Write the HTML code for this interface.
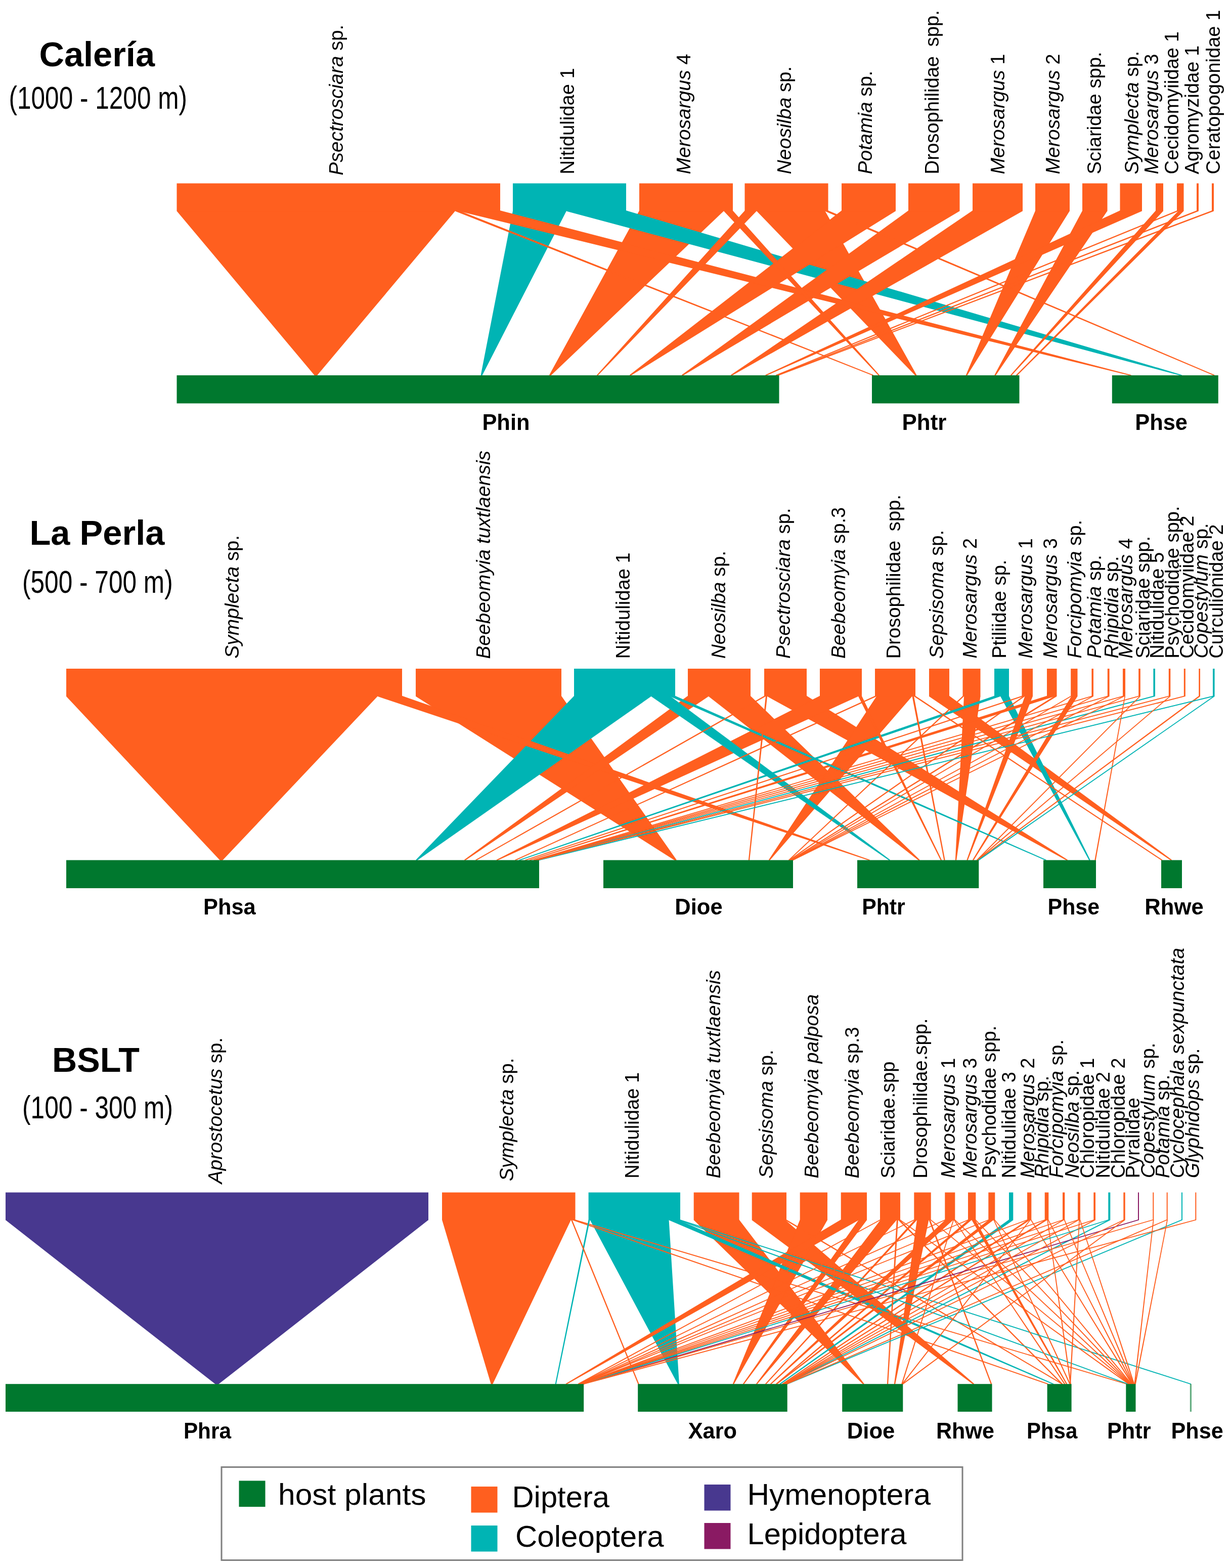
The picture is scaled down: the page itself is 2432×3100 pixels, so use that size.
<!DOCTYPE html>
<html lang="en"><head><meta charset="utf-8"><title>Plant–insect networks</title>
<style>
html,body{margin:0;padding:0;background:#fff}
body{width:2432px;height:3100px;overflow:hidden}
svg{display:block}
text{font-family:"Liberation Sans",Arial,Helvetica,sans-serif;fill:#000}
.sp{font-size:38.2px}
.lo{font-size:43.5px;font-weight:bold}
.ti{font-size:68px;font-weight:bold}
.su{font-size:63px}
.lg{font-size:60px}
</style></head><body>
<svg width="2432" height="3100" viewBox="0 0 2432 3100">
<rect width="2432" height="3100" fill="#fff"/>
<g shape-rendering="geometricPrecision">
<polygon fill="#FF5F1F" stroke="#FF5F1F" stroke-width="1.8" stroke-linejoin="bevel" points="350.4,416.8 899.1,416.8 626.1,742 622.9,742"/>
<polygon fill="#FF5F1F" stroke="#FF5F1F" stroke-width="1.8" stroke-linejoin="bevel" points="1264.9,416.8 1430.1,416.8 1088.2,742 1086.8,742"/>
<polygon fill="#FF5F1F" stroke="#FF5F1F" stroke-width="1.8" stroke-linejoin="bevel" points="1496.9,416.8 1630.1,416.8 1811.6,742 1810.4,742"/>
<polygon fill="#00B4B4" stroke="#00B4B4" stroke-width="1.8" stroke-linejoin="bevel" points="1120.9,416.8 1237.1,416.8 2336.5,742 2335.5,742"/>
<polygon fill="#FF5F1F" stroke="#FF5F1F" stroke-width="1.8" stroke-linejoin="bevel" points="1664.9,416.8 1770.1,416.8 1246.5,742 1245.5,742"/>
<polygon fill="#00B4B4" stroke="#00B4B4" stroke-width="1.8" stroke-linejoin="bevel" points="1014.9,416.8 1119.1,416.8 952.5,742 951.5,742"/>
<polygon fill="#FF5F1F" stroke="#FF5F1F" stroke-width="1.8" stroke-linejoin="bevel" points="1796.9,416.8 1896.6,416.8 1349.5,742 1348.5,742"/>
<polygon fill="#FF5F1F" stroke="#FF5F1F" stroke-width="1.8" stroke-linejoin="bevel" points="1923.9,416.8 2021.1,416.8 1446.5,742 1445.5,742"/>
<polygon fill="#FF5F1F" stroke="#FF5F1F" stroke-width="1.8" stroke-linejoin="bevel" points="908.4,416.8 988.1,416.8 2236.5,742 2235.5,742"/>
<polygon fill="#FF5F1F" stroke="#FF5F1F" stroke-width="1.8" stroke-linejoin="bevel" points="2047.9,416.8 2114.1,416.8 1911.4,742 1910.6,742"/>
<polygon fill="#FF5F1F" stroke="#FF5F1F" stroke-width="1.8" stroke-linejoin="bevel" points="2140.9,416.8 2188.6,416.8 1967.9,742 1967.1,742"/>
<polygon fill="#FF5F1F" stroke="#FF5F1F" stroke-width="1.8" stroke-linejoin="bevel" points="2215.4,416.8 2257.1,416.8 1514.4,742 1513.6,742"/>
<polygon fill="#FF5F1F" stroke="#FF5F1F" stroke-width="1.8" stroke-linejoin="bevel" points="1473.4,416.8 1495.1,416.8 1181.3,742 1180.7,742"/>
<polygon fill="#FF5F1F" stroke="#FF5F1F" stroke-width="1.8" stroke-linejoin="bevel" points="1431.9,416.8 1448.1,416.8 1738.3,742 1737.7,742"/>
<polygon fill="#FF5F1F" stroke="#FF5F1F" stroke-width="1.8" stroke-linejoin="bevel" points="2285.9,416.8 2299.1,416.8 1999.3,742 1998.7,742"/>
<polygon fill="#FF5F1F" stroke="#FF5F1F" stroke-width="1.8" stroke-linejoin="bevel" points="2331.4,416.8 2339.6,416.8 2010.3,742 2009.7,742"/>
<polygon fill="#FF5F1F" stroke="#FF5F1F" stroke-width="1.8" stroke-linejoin="bevel" points="900.9,416.8 906.6,416.8 1726.8,742 1726.2,742"/>
<polygon fill="#FF5F1F" stroke="#FF5F1F" stroke-width="1.8" stroke-linejoin="bevel" points="1631.9,416.8 1636.6,416.8 2401.3,742 2400.7,742"/>
<polygon fill="#FF5F1F" stroke="#FF5F1F" stroke-width="1.8" stroke-linejoin="bevel" points="2366.9,416.8 2369.1,416.8 1536.8,742 1536.2,742"/>
<polygon fill="#FF5F1F" stroke="#FF5F1F" stroke-width="1.8" stroke-linejoin="bevel" points="2396.9,416.8 2399.1,416.8 1538.8,742 1538.2,742"/>
<polygon fill="#FF5F1F" stroke="#FF5F1F" stroke-width="1.8" stroke-linejoin="bevel" points="2327.9,416.8 2329.6,416.8 1534.8,742 1534.2,742"/>
<rect fill="#FF5F1F" x="349.5" y="362.5" width="639.5" height="54.8"/>
<rect fill="#00B4B4" x="1014" y="362.5" width="224" height="54.8"/>
<rect fill="#FF5F1F" x="1264" y="362.5" width="185" height="54.8"/>
<rect fill="#FF5F1F" x="1472.5" y="362.5" width="165" height="54.8"/>
<rect fill="#FF5F1F" x="1664" y="362.5" width="107" height="54.8"/>
<rect fill="#FF5F1F" x="1796" y="362.5" width="101.5" height="54.8"/>
<rect fill="#FF5F1F" x="1923" y="362.5" width="99" height="54.8"/>
<rect fill="#FF5F1F" x="2047" y="362.5" width="68" height="54.8"/>
<rect fill="#FF5F1F" x="2140" y="362.5" width="49.5" height="54.8"/>
<rect fill="#FF5F1F" x="2214.5" y="362.5" width="43.5" height="54.8"/>
<rect fill="#FF5F1F" x="2285" y="362.5" width="15" height="54.8"/>
<rect fill="#FF5F1F" x="2327" y="362.5" width="13.5" height="54.8"/>
<rect fill="#FF5F1F" x="2366" y="362.5" width="4" height="54.8"/>
<rect fill="#FF5F1F" x="2396" y="362.5" width="4" height="54.8"/>
<rect fill="#00782E" x="349.5" y="742" width="1191" height="55.5"/>
<rect fill="#00782E" x="1724" y="742" width="291.5" height="55.5"/>
<rect fill="#00782E" x="2198.8" y="742" width="210" height="55.5"/>
</g>
<text class="sp" transform="translate(677.5,346.8) rotate(-90)" font-size="38.2"><tspan font-style="italic" font-size="39">Psectrosciara</tspan> sp.</text>
<text class="sp" transform="translate(1135,344.4) rotate(-90)" font-size="38.2">Nitidulidae 1</text>
<text class="sp" transform="translate(1364.7,344.4) rotate(-90)" font-size="38.2"><tspan font-style="italic" font-size="39">Merosargus</tspan> 4</text>
<text class="sp" transform="translate(1563.8,344.4) rotate(-90)" font-size="38.2"><tspan font-style="italic" font-size="39">Neosilba</tspan> sp.</text>
<text class="sp" transform="translate(1724.4,344.4) rotate(-90)" font-size="38.2"><tspan font-style="italic" font-size="39">Potamia</tspan> sp.</text>
<text class="sp" transform="translate(1856.4,344.4) rotate(-90)" font-size="38.2">Drosophilidae<tspan dx="8"> spp.</tspan></text>
<text class="sp" transform="translate(1986.4,344.4) rotate(-90)" font-size="38.2"><tspan font-style="italic" font-size="39">Merosargus</tspan> 1</text>
<text class="sp" transform="translate(2095.4,344.4) rotate(-90)" font-size="38.2"><tspan font-style="italic" font-size="39">Merosargus</tspan> 2</text>
<text class="sp" transform="translate(2177,344.4) rotate(-90)" font-size="38.2">Sciaridae spp.</text>
<text class="sp" transform="translate(2250.5,344.4) rotate(-90)" font-size="38.2"><tspan font-style="italic" font-size="39">Symplecta</tspan> sp.</text>
<text class="sp" transform="translate(2289.5,344.4) rotate(-90)" font-size="38.2"><tspan font-style="italic" font-size="39">Merosargus</tspan> 3</text>
<text class="sp" transform="translate(2330,344.4) rotate(-90)" font-size="38.2">Cecidomyiidae 1</text>
<text class="sp" transform="translate(2370,344.4) rotate(-90)" font-size="38.2">Agromyzidae 1</text>
<text class="sp" transform="translate(2412,344.4) rotate(-90)" font-size="38.2">Ceratopogonidae 1</text>
<text class="lo" x="953.4" y="850" textLength="94.1" lengthAdjust="spacingAndGlyphs">Phin</text>
<text class="lo" x="1783.6" y="850" textLength="87.8" lengthAdjust="spacingAndGlyphs">Phtr</text>
<text class="lo" x="2244.3" y="850" textLength="103.7" lengthAdjust="spacingAndGlyphs">Phse</text>
<text class="ti" x="77.5" y="131" textLength="228.5" lengthAdjust="spacingAndGlyphs">Calería</text>
<text class="su" x="17.5" y="215" textLength="352.5" lengthAdjust="spacingAndGlyphs">(1000 - 1200 m)</text>
<g shape-rendering="geometricPrecision">
<polygon fill="#FF5F1F" stroke="#FF5F1F" stroke-width="1.7" stroke-linejoin="bevel" points="131.8,1376.3 745.6,1376.3 439.3,1700.5 435.7,1700.5"/>
<polygon fill="#FF5F1F" stroke="#FF5F1F" stroke-width="1.7" stroke-linejoin="bevel" points="822.9,1376.3 1109.2,1376.3 1337,1700.5 1335,1700.5"/>
<polygon fill="#00B4B4" stroke="#00B4B4" stroke-width="1.7" stroke-linejoin="bevel" points="1135.8,1376.3 1286.7,1376.3 824.1,1700.5 822.9,1700.5"/>
<polygon fill="#FF5F1F" stroke="#FF5F1F" stroke-width="1.7" stroke-linejoin="bevel" points="1401.8,1376.3 1483.2,1376.3 1818,1700.5 1817,1700.5"/>
<polygon fill="#FF5F1F" stroke="#FF5F1F" stroke-width="1.7" stroke-linejoin="bevel" points="1517.8,1376.3 1594.2,1376.3 2110.4,1700.5 2109.6,1700.5"/>
<polygon fill="#FF5F1F" stroke="#FF5F1F" stroke-width="1.7" stroke-linejoin="bevel" points="1621.8,1376.3 1696.2,1376.3 982.9,1700.5 982.1,1700.5"/>
<polygon fill="#FF5F1F" stroke="#FF5F1F" stroke-width="1.7" stroke-linejoin="bevel" points="1734.3,1376.3 1802.7,1376.3 1521.4,1700.5 1520.6,1700.5"/>
<polygon fill="#FF5F1F" stroke="#FF5F1F" stroke-width="1.7" stroke-linejoin="bevel" points="747.4,1376.3 794.1,1376.3 1719.4,1700.5 1718.6,1700.5"/>
<polygon fill="#FF5F1F" stroke="#FF5F1F" stroke-width="1.7" stroke-linejoin="bevel" points="1360.8,1376.3 1400.2,1376.3 919.4,1700.5 918.6,1700.5"/>
<polygon fill="#FF5F1F" stroke="#FF5F1F" stroke-width="1.7" stroke-linejoin="bevel" points="1837.8,1376.3 1876.2,1376.3 2316.3,1700.5 2315.7,1700.5"/>
<polygon fill="#00B4B4" stroke="#00B4B4" stroke-width="1.7" stroke-linejoin="bevel" points="1288.3,1376.3 1323.7,1376.3 1759.3,1700.5 1758.7,1700.5"/>
<polygon fill="#FF5F1F" stroke="#FF5F1F" stroke-width="1.7" stroke-linejoin="bevel" points="1906.9,1376.3 1937.7,1376.3 1890.3,1700.5 1889.7,1700.5"/>
<polygon fill="#00B4B4" stroke="#00B4B4" stroke-width="1.7" stroke-linejoin="bevel" points="1978.8,1376.3 1994.2,1376.3 2154.8,1700.5 2154.2,1700.5"/>
<polygon fill="#FF5F1F" stroke="#FF5F1F" stroke-width="1.7" stroke-linejoin="bevel" points="2070.8,1376.3 2084.7,1376.3 1047.6,1700.5 1047,1700.5"/>
<polygon fill="#FF5F1F" stroke="#FF5F1F" stroke-width="1.7" stroke-linejoin="bevel" points="2027.4,1376.3 2041.2,1376.3 1912.8,1700.5 1912.2,1700.5"/>
<polygon fill="#00B4B4" stroke="#00B4B4" stroke-width="1.7" stroke-linejoin="bevel" points="1966.8,1376.3 1977.2,1376.3 1027.3,1700.5 1026.7,1700.5"/>
<polygon fill="#FF5F1F" stroke="#FF5F1F" stroke-width="1.7" stroke-linejoin="bevel" points="2119.5,1376.3 2129.7,1376.3 1924.3,1700.5 1923.7,1700.5"/>
<polygon fill="#00B4B4" stroke="#00B4B4" stroke-width="1.7" stroke-linejoin="bevel" points="1325.3,1376.3 1334.2,1376.3 2068.3,1700.5 2067.7,1700.5"/>
<polygon fill="#FF5F1F" stroke="#FF5F1F" stroke-width="1.7" stroke-linejoin="bevel" points="1697.8,1376.3 1703.2,1376.3 1861.3,1700.5 1860.7,1700.5"/>
<polygon fill="#FF5F1F" stroke="#FF5F1F" stroke-width="1.7" stroke-linejoin="bevel" points="2086.3,1376.3 2088.7,1376.3 1563.5,1700.5 1563,1700.5"/>
<polygon fill="#00B4B4" stroke="#00B4B4" stroke-width="1.7" stroke-linejoin="bevel" points="2281.2,1376.3 2283.2,1376.3 1060.9,1700.5 1060.4,1700.5"/>
<polygon fill="#FF5F1F" stroke="#FF5F1F" stroke-width="1.7" stroke-linejoin="bevel" points="1730.8,1376.3 1732.7,1376.3 1019.3,1700.5 1018.7,1700.5"/>
<polygon fill="#FF5F1F" stroke="#FF5F1F" stroke-width="1.7" stroke-linejoin="bevel" points="1804.3,1376.3 1806.2,1376.3 1867.8,1700.5 1867.2,1700.5"/>
<polygon fill="#FF5F1F" stroke="#FF5F1F" stroke-width="1.7" stroke-linejoin="bevel" points="2021.2,1376.3 2023.2,1376.3 1039.2,1700.5 1038.6,1700.5"/>
<polygon fill="#FF5F1F" stroke="#FF5F1F" stroke-width="1.7" stroke-linejoin="bevel" points="1511.8,1376.3 1513.2,1376.3 941.3,1700.5 940.7,1700.5"/>
<polygon fill="#FF5F1F" stroke="#FF5F1F" stroke-width="1.7" stroke-linejoin="bevel" points="1514.8,1376.3 1516.2,1376.3 1481.3,1700.5 1480.7,1700.5"/>
<polygon fill="#FF5F1F" stroke="#FF5F1F" stroke-width="1.7" stroke-linejoin="bevel" points="1807.8,1376.3 1809.2,1376.3 2297.8,1700.5 2297.2,1700.5"/>
<polygon fill="#FF5F1F" stroke="#FF5F1F" stroke-width="1.7" stroke-linejoin="bevel" points="2341.7,1376.3 2343,1376.3 1064.1,1700.5 1063.6,1700.5"/>
<polygon fill="#FF5F1F" stroke="#FF5F1F" stroke-width="1.7" stroke-linejoin="bevel" points="2371.2,1376.3 2372.2,1376.3 1934,1700.5 1933.4,1700.5"/>
<polygon fill="#FF5F1F" stroke="#FF5F1F" stroke-width="1.7" stroke-linejoin="bevel" points="1904.3,1376.3 1905.2,1376.3 1560.1,1700.5 1559.6,1700.5"/>
<polygon fill="#FF5F1F" stroke="#FF5F1F" stroke-width="1.7" stroke-linejoin="bevel" points="2024.8,1376.3 2025.7,1376.3 1561.4,1700.5 1560.9,1700.5"/>
<polygon fill="#FF5F1F" stroke="#FF5F1F" stroke-width="1.7" stroke-linejoin="bevel" points="2190.7,1376.3 2191.5,1376.3 1056.6,1700.5 1056.1,1700.5"/>
<polygon fill="#FF5F1F" stroke="#FF5F1F" stroke-width="1.7" stroke-linejoin="bevel" points="2220.8,1376.3 2221.6,1376.3 1057.8,1700.5 1057.3,1700.5"/>
<polygon fill="#FF5F1F" stroke="#FF5F1F" stroke-width="1.7" stroke-linejoin="bevel" points="2252,1376.3 2252.8,1376.3 1059.1,1700.5 1058.6,1700.5"/>
<polygon fill="#00B4B4" stroke="#00B4B4" stroke-width="1.7" stroke-linejoin="bevel" points="2398.8,1376.3 2399.6,1376.3 1065.6,1700.5 1065.1,1700.5"/>
<polygon fill="#FF5F1F" stroke="#FF5F1F" stroke-width="1.7" stroke-linejoin="bevel" points="2159.2,1376.3 2159.9,1376.3 1055.4,1700.5 1054.9,1700.5"/>
<polygon fill="#FF5F1F" stroke="#FF5F1F" stroke-width="1.7" stroke-linejoin="bevel" points="2311.7,1376.3 2312.3,1376.3 1062.7,1700.5 1062.1,1700.5"/>
<polygon fill="#FF5F1F" stroke="#FF5F1F" stroke-width="1.7" stroke-linejoin="bevel" points="2117.9,1376.3 2117.9,1376.3 1565.4,1700.5 1564.9,1700.5"/>
<polygon fill="#FF5F1F" stroke="#FF5F1F" stroke-width="1.7" stroke-linejoin="bevel" points="2224.3,1376.3 2224.3,1376.3 2165.8,1700.5 2165.2,1700.5"/>
<polygon fill="#FF5F1F" stroke="#FF5F1F" stroke-width="1.7" stroke-linejoin="bevel" points="2161.4,1376.3 2161.4,1376.3 1566.2,1700.5 1565.7,1700.5"/>
<polygon fill="#FF5F1F" stroke="#FF5F1F" stroke-width="1.7" stroke-linejoin="bevel" points="2193,1376.3 2193,1376.3 1567,1700.5 1566.5,1700.5"/>
<polygon fill="#FF5F1F" stroke="#FF5F1F" stroke-width="1.7" stroke-linejoin="bevel" points="2223,1376.3 2223,1376.3 1567.8,1700.5 1567.3,1700.5"/>
<polygon fill="#FF5F1F" stroke="#FF5F1F" stroke-width="1.7" stroke-linejoin="bevel" points="2254.2,1376.3 2254.2,1376.3 1931.9,1700.5 1931.4,1700.5"/>
<polygon fill="#FF5F1F" stroke="#FF5F1F" stroke-width="1.7" stroke-linejoin="bevel" points="2313.7,1376.3 2313.7,1376.3 1932.8,1700.5 1932.3,1700.5"/>
<polygon fill="#00B4B4" stroke="#00B4B4" stroke-width="1.7" stroke-linejoin="bevel" points="2401,1376.3 2401,1376.3 1935.1,1700.5 1934.6,1700.5"/>
<rect fill="#FF5F1F" x="131" y="1322" width="664" height="54.8"/>
<rect fill="#FF5F1F" x="822" y="1322" width="288" height="54.8"/>
<rect fill="#00B4B4" x="1135" y="1322" width="200" height="54.8"/>
<rect fill="#FF5F1F" x="1360" y="1322" width="124" height="54.8"/>
<rect fill="#FF5F1F" x="1511" y="1322" width="84" height="54.8"/>
<rect fill="#FF5F1F" x="1621" y="1322" width="83" height="54.8"/>
<rect fill="#FF5F1F" x="1730" y="1322" width="80" height="54.8"/>
<rect fill="#FF5F1F" x="1837" y="1322" width="40" height="54.8"/>
<rect fill="#FF5F1F" x="1903.5" y="1322" width="35" height="54.8"/>
<rect fill="#00B4B4" x="1966" y="1322" width="29" height="54.8"/>
<rect fill="#FF5F1F" x="2020.4" y="1322" width="21.6" height="54.8"/>
<rect fill="#FF5F1F" x="2070" y="1322" width="19.5" height="54.8"/>
<rect fill="#FF5F1F" x="2117.2" y="1322" width="13.3" height="54.8"/>
<rect fill="#FF5F1F" x="2158.4" y="1322" width="3.6" height="54.8"/>
<rect fill="#FF5F1F" x="2189.8" y="1322" width="3.8" height="54.8"/>
<rect fill="#FF5F1F" x="2220" y="1322" width="5" height="54.8"/>
<rect fill="#FF5F1F" x="2251.2" y="1322" width="3.6" height="54.8"/>
<rect fill="#00B4B4" x="2280.4" y="1322" width="3.6" height="54.8"/>
<rect fill="#FF5F1F" x="2310.8" y="1322" width="3.5" height="54.8"/>
<rect fill="#FF5F1F" x="2340.8" y="1322" width="3" height="54.8"/>
<rect fill="#FF5F1F" x="2370.3" y="1322" width="2.7" height="54.8"/>
<rect fill="#00B4B4" x="2398" y="1322" width="3.6" height="54.8"/>
<rect fill="#00782E" x="131" y="1700.5" width="935" height="55.5"/>
<rect fill="#00782E" x="1193" y="1700.5" width="375" height="55.5"/>
<rect fill="#00782E" x="1695" y="1700.5" width="240.3" height="55.5"/>
<rect fill="#00782E" x="2063" y="1700.5" width="104" height="55.5"/>
<rect fill="#00782E" x="2296" y="1700.5" width="41" height="55.5"/>
</g>
<text class="sp" transform="translate(471.5,1301.8) rotate(-90)" font-size="38.2"><tspan font-style="italic" font-size="39">Symplecta</tspan> sp.</text>
<text class="sp" transform="translate(969,1302.8) rotate(-90)" font-size="38.2"><tspan font-style="italic" font-size="39">Beebeomyia tuxtlaensis</tspan></text>
<text class="sp" transform="translate(1245,1302.3) rotate(-90)" font-size="38.2">Nitidulidae 1</text>
<text class="sp" transform="translate(1433.6,1302.3) rotate(-90)" font-size="38.2"><tspan font-style="italic" font-size="39">Neosilba</tspan> sp.</text>
<text class="sp" transform="translate(1561.5,1302.3) rotate(-90)" font-size="38.2"><tspan font-style="italic" font-size="39">Psectrosciara</tspan> sp.</text>
<text class="sp" transform="translate(1671.3,1302.3) rotate(-90)" font-size="38.2"><tspan font-style="italic" font-size="39">Beebeomyia</tspan> sp.3</text>
<text class="sp" transform="translate(1780.3,1302.3) rotate(-90)" font-size="38.2">Drosophilidae<tspan dx="8"> spp.</tspan></text>
<text class="sp" transform="translate(1865.4,1302.3) rotate(-90)" font-size="38.2"><tspan font-style="italic" font-size="39">Sepsisoma</tspan> sp.</text>
<text class="sp" transform="translate(1930.8,1301.8) rotate(-90)" font-size="38.2"><tspan font-style="italic" font-size="39">Merosargus</tspan> 2</text>
<text class="sp" transform="translate(1989,1301.8) rotate(-90)" font-size="38.2">Ptiliidae sp.</text>
<text class="sp" transform="translate(2040.8,1301.8) rotate(-90)" font-size="38.2"><tspan font-style="italic" font-size="39">Merosargus</tspan> 1</text>
<text class="sp" transform="translate(2089.5,1301.8) rotate(-90)" font-size="38.2"><tspan font-style="italic" font-size="39">Merosargus</tspan> 3</text>
<text class="sp" transform="translate(2138,1301.8) rotate(-90)" font-size="38.2"><tspan font-style="italic" font-size="39">Forcipomyia</tspan> sp.</text>
<text class="sp" transform="translate(2177,1301.8) rotate(-90)" font-size="38.2"><tspan font-style="italic" font-size="39">Potamia</tspan> sp.</text>
<text class="sp" transform="translate(2211,1301.8) rotate(-90)" font-size="38.2"><tspan font-style="italic" font-size="39">Rhipidia</tspan> sp.</text>
<text class="sp" transform="translate(2238.5,1301.8) rotate(-90)" font-size="38.2"><tspan font-style="italic" font-size="39">Merosargus</tspan> 4</text>
<text class="sp" transform="translate(2272.5,1301.8) rotate(-90)" font-size="38.2">Sciaridae spp.</text>
<text class="sp" transform="translate(2300.5,1301.8) rotate(-90)" font-size="38.2">Nitidulidae 5</text>
<text class="sp" transform="translate(2330.5,1301.8) rotate(-90)" font-size="38.2">Psychodidae spp.</text>
<text class="sp" transform="translate(2360,1301.8) rotate(-90)" font-size="38.2">Cecidomyiidae 2</text>
<text class="sp" transform="translate(2388.4,1301.8) rotate(-90)" font-size="38.2"><tspan font-style="italic" font-size="39">Copestylum</tspan> sp.</text>
<text class="sp" transform="translate(2418.4,1301.8) rotate(-90)" font-size="38.2">Curculionidae 2</text>
<text class="lo" x="402" y="1808" textLength="103.7" lengthAdjust="spacingAndGlyphs">Phsa</text>
<text class="lo" x="1334.3" y="1808" textLength="94.3" lengthAdjust="spacingAndGlyphs">Dioe</text>
<text class="lo" x="1704.2" y="1808" textLength="85.5" lengthAdjust="spacingAndGlyphs">Phtr</text>
<text class="lo" x="2071.6" y="1808" textLength="102.4" lengthAdjust="spacingAndGlyphs">Phse</text>
<text class="lo" x="2263.3" y="1808" textLength="116.4" lengthAdjust="spacingAndGlyphs">Rhwe</text>
<text class="ti" x="58.4" y="1077" textLength="267" lengthAdjust="spacingAndGlyphs">La Perla</text>
<text class="su" x="44" y="1171.8" textLength="297.7" lengthAdjust="spacingAndGlyphs">(500 - 700 m)</text>
<g shape-rendering="geometricPrecision">
<polygon fill="#48388F" stroke="#48388F" stroke-width="1.7" stroke-linejoin="bevel" points="11.8,2411.7 846.1,2411.7 431.3,2736.2 426.7,2736.2"/>
<polygon fill="#FF5F1F" stroke="#FF5F1F" stroke-width="1.7" stroke-linejoin="bevel" points="874.9,2411.7 1128.1,2411.7 973.4,2736.2 971.6,2736.2"/>
<polygon fill="#00B4B4" stroke="#00B4B4" stroke-width="1.7" stroke-linejoin="bevel" points="1167.4,2411.7 1321.7,2411.7 1342.1,2736.2 1340.9,2736.2"/>
<polygon fill="#FF5F1F" stroke="#FF5F1F" stroke-width="1.7" stroke-linejoin="bevel" points="1372.5,2411.7 1460.7,2411.7 1708,2736.2 1707,2736.2"/>
<polygon fill="#FF5F1F" stroke="#FF5F1F" stroke-width="1.7" stroke-linejoin="bevel" points="1487.5,2411.7 1551.1,2411.7 1925.4,2736.2 1924.6,2736.2"/>
<polygon fill="#FF5F1F" stroke="#FF5F1F" stroke-width="1.7" stroke-linejoin="bevel" points="1582.5,2411.7 1635.2,2411.7 1450.4,2736.2 1449.6,2736.2"/>
<polygon fill="#FF5F1F" stroke="#FF5F1F" stroke-width="1.7" stroke-linejoin="bevel" points="1663.5,2411.7 1697.1,2411.7 1119.8,2736.2 1119.2,2736.2"/>
<polygon fill="#FF5F1F" stroke="#FF5F1F" stroke-width="1.7" stroke-linejoin="bevel" points="1742,2411.7 1772,2411.7 1496.3,2736.2 1495.7,2736.2"/>
<polygon fill="#FF5F1F" stroke="#FF5F1F" stroke-width="1.7" stroke-linejoin="bevel" points="1813.9,2411.7 1835.6,2411.7 1769.3,2736.2 1768.7,2736.2"/>
<polygon fill="#00B4B4" stroke="#00B4B4" stroke-width="1.7" stroke-linejoin="bevel" points="1323.4,2411.7 1339.2,2411.7 2082.8,2736.2 2082.2,2736.2"/>
<polygon fill="#FF5F1F" stroke="#FF5F1F" stroke-width="1.7" stroke-linejoin="bevel" points="1698.8,2411.7 1713.2,2411.7 1470.3,2736.2 1469.7,2736.2"/>
<polygon fill="#FF5F1F" stroke="#FF5F1F" stroke-width="1.7" stroke-linejoin="bevel" points="1870.4,2411.7 1883.8,2411.7 1524.3,2736.2 1523.7,2736.2"/>
<polygon fill="#00B4B4" stroke="#00B4B4" stroke-width="1.7" stroke-linejoin="bevel" points="1995.8,2411.7 2002.5,2411.7 1542.5,2736.2 1542,2736.2"/>
<polygon fill="#FF5F1F" stroke="#FF5F1F" stroke-width="1.7" stroke-linejoin="bevel" points="1956.4,2411.7 1963.3,2411.7 1535.7,2736.2 1535.2,2736.2"/>
<polygon fill="#FF5F1F" stroke="#FF5F1F" stroke-width="1.7" stroke-linejoin="bevel" points="1922,2411.7 1927.3,2411.7 2109.3,2736.2 2108.7,2736.2"/>
<polygon fill="#FF5F1F" stroke="#FF5F1F" stroke-width="1.7" stroke-linejoin="bevel" points="1916,2411.7 1920.3,2411.7 1535.3,2736.2 1534.7,2736.2"/>
<polygon fill="#FF5F1F" stroke="#FF5F1F" stroke-width="1.7" stroke-linejoin="bevel" points="1809.4,2411.7 1812.2,2411.7 1514.3,2736.2 1513.7,2736.2"/>
<polygon fill="#FF5F1F" stroke="#FF5F1F" stroke-width="1.7" stroke-linejoin="bevel" points="2033.1,2411.7 2035.4,2411.7 1547.4,2736.2 1546.8,2736.2"/>
<polygon fill="#FF5F1F" stroke="#FF5F1F" stroke-width="1.7" stroke-linejoin="bevel" points="2067.7,2411.7 2069.5,2411.7 1549.9,2736.2 1549.3,2736.2"/>
<polygon fill="#FF5F1F" stroke="#FF5F1F" stroke-width="1.7" stroke-linejoin="bevel" points="1132.3,2411.7 1133.6,2411.7 2072.3,2736.2 2071.7,2736.2"/>
<polygon fill="#FF5F1F" stroke="#FF5F1F" stroke-width="1.7" stroke-linejoin="bevel" points="1135.3,2411.7 1136.7,2411.7 2228,2736.2 2227.5,2736.2"/>
<polygon fill="#00B4B4" stroke="#00B4B4" stroke-width="1.7" stroke-linejoin="bevel" points="1164.4,2411.7 1165.7,2411.7 1099,2736.2 1098.5,2736.2"/>
<polygon fill="#FF5F1F" stroke="#FF5F1F" stroke-width="1.7" stroke-linejoin="bevel" points="1552.8,2411.7 1554.2,2411.7 2100.6,2736.2 2100,2736.2"/>
<polygon fill="#FF5F1F" stroke="#FF5F1F" stroke-width="1.7" stroke-linejoin="bevel" points="1773.7,2411.7 1775,2411.7 1755.3,2736.2 1754.7,2736.2"/>
<polygon fill="#FF5F1F" stroke="#FF5F1F" stroke-width="1.7" stroke-linejoin="bevel" points="1776.7,2411.7 1778,2411.7 2100.3,2736.2 2099.7,2736.2"/>
<polygon fill="#FF5F1F" stroke="#FF5F1F" stroke-width="1.7" stroke-linejoin="bevel" points="1837.3,2411.7 1838.6,2411.7 1960.3,2736.2 1959.7,2736.2"/>
<polygon fill="#FF5F1F" stroke="#FF5F1F" stroke-width="1.7" stroke-linejoin="bevel" points="1129.8,2411.7 1130.6,2411.7 1262.8,2736.2 1262.2,2736.2"/>
<polygon fill="#00B4B4" stroke="#00B4B4" stroke-width="1.7" stroke-linejoin="bevel" points="1340.9,2411.7 1341.7,2411.7 2230.5,2736.2 2230,2736.2"/>
<polygon fill="#00B4B4" stroke="#00B4B4" stroke-width="1.7" stroke-linejoin="bevel" points="1343.4,2411.7 1344.1,2411.7 2354.6,2736.2 2354,2736.2"/>
<polygon fill="#00B4B4" stroke="#00B4B4" stroke-width="1.7" stroke-linejoin="bevel" points="2193.7,2411.7 2194.5,2411.7 1554,2736.2 1553.5,2736.2"/>
<polygon fill="#8A1A63" stroke="#8A1A63" stroke-width="1.7" stroke-linejoin="bevel" points="2250.8,2411.7 2251.2,2411.7 1152.4,2736.2 1151.9,2736.2"/>
<polygon fill="#00B4B4" stroke="#00B4B4" stroke-width="1.7" stroke-linejoin="bevel" points="2336.8,2411.7 2337.2,2411.7 1556.6,2736.2 1556.1,2736.2"/>
<polygon fill="#FF5F1F" stroke="#FF5F1F" stroke-width="1.7" stroke-linejoin="bevel" points="2364.2,2411.7 2364.5,2411.7 1154.1,2736.2 1153.5,2736.2"/>
<polygon fill="#FF5F1F" stroke="#FF5F1F" stroke-width="1.7" stroke-linejoin="bevel" points="2163.2,2411.7 2163.3,2411.7 1150.8,2736.2 1150.3,2736.2"/>
<polygon fill="#FF5F1F" stroke="#FF5F1F" stroke-width="1.7" stroke-linejoin="bevel" points="2165,2411.7 2165.2,2411.7 1552.9,2736.2 1552.4,2736.2"/>
<polygon fill="#FF5F1F" stroke="#FF5F1F" stroke-width="1.7" stroke-linejoin="bevel" points="2222.2,2411.7 2222.2,2411.7 1555,2736.2 1554.5,2736.2"/>
<polygon fill="#FF5F1F" stroke="#FF5F1F" stroke-width="1.7" stroke-linejoin="bevel" points="2223.8,2411.7 2223.8,2411.7 1785.1,2736.2 1784.6,2736.2"/>
<polygon fill="#FF5F1F" stroke="#FF5F1F" stroke-width="1.7" stroke-linejoin="bevel" points="1964.9,2411.7 1964.9,2411.7 2115.7,2736.2 2115.2,2736.2"/>
<polygon fill="#FF5F1F" stroke="#FF5F1F" stroke-width="1.7" stroke-linejoin="bevel" points="1966.5,2411.7 1966.5,2411.7 2237.4,2736.2 2236.9,2736.2"/>
<polygon fill="#FF5F1F" stroke="#FF5F1F" stroke-width="1.7" stroke-linejoin="bevel" points="2037,2411.7 2037,2411.7 1784.3,2736.2 1783.8,2736.2"/>
<polygon fill="#FF5F1F" stroke="#FF5F1F" stroke-width="1.7" stroke-linejoin="bevel" points="2038.5,2411.7 2038.5,2411.7 2238.7,2736.2 2238.1,2736.2"/>
<polygon fill="#FF5F1F" stroke="#FF5F1F" stroke-width="1.7" stroke-linejoin="bevel" points="2071.1,2411.7 2071.1,2411.7 2117,2736.2 2116.5,2736.2"/>
<polygon fill="#FF5F1F" stroke="#FF5F1F" stroke-width="1.7" stroke-linejoin="bevel" points="2072.6,2411.7 2072.6,2411.7 2239.9,2736.2 2239.4,2736.2"/>
<polygon fill="#FF5F1F" stroke="#FF5F1F" stroke-width="1.7" stroke-linejoin="bevel" points="2103,2411.7 2103,2411.7 1551.4,2736.2 1550.9,2736.2"/>
<polygon fill="#FF5F1F" stroke="#FF5F1F" stroke-width="1.7" stroke-linejoin="bevel" points="2104.5,2411.7 2104.5,2411.7 2241.2,2736.2 2240.7,2736.2"/>
<polygon fill="#00B4B4" stroke="#00B4B4" stroke-width="1.7" stroke-linejoin="bevel" points="2192.1,2411.7 2192.1,2411.7 1151.6,2736.2 1151.1,2736.2"/>
<polygon fill="#FF5F1F" stroke="#FF5F1F" stroke-width="1.7" stroke-linejoin="bevel" points="2134.1,2411.7 2134.1,2411.7 2116.3,2736.2 2115.7,2736.2"/>
<polygon fill="#FF5F1F" stroke="#FF5F1F" stroke-width="1.7" stroke-linejoin="bevel" points="1740.6,2411.7 1740.6,2411.7 1143.6,2736.2 1143.1,2736.2"/>
<polygon fill="#FF5F1F" stroke="#FF5F1F" stroke-width="1.7" stroke-linejoin="bevel" points="1779.4,2411.7 1779.4,2411.7 2232.2,2736.2 2231.7,2736.2"/>
<polygon fill="#FF5F1F" stroke="#FF5F1F" stroke-width="1.7" stroke-linejoin="bevel" points="1807.9,2411.7 1807.9,2411.7 1144.4,2736.2 1143.9,2736.2"/>
<polygon fill="#FF5F1F" stroke="#FF5F1F" stroke-width="1.7" stroke-linejoin="bevel" points="1840.1,2411.7 1840.1,2411.7 2233.5,2736.2 2233,2736.2"/>
<polygon fill="#FF5F1F" stroke="#FF5F1F" stroke-width="1.7" stroke-linejoin="bevel" points="1868.9,2411.7 1868.9,2411.7 1145.2,2736.2 1144.7,2736.2"/>
<polygon fill="#FF5F1F" stroke="#FF5F1F" stroke-width="1.7" stroke-linejoin="bevel" points="1885.3,2411.7 1885.3,2411.7 1783.5,2736.2 1783,2736.2"/>
<polygon fill="#FF5F1F" stroke="#FF5F1F" stroke-width="1.7" stroke-linejoin="bevel" points="1886.5,2411.7 1886.5,2411.7 2105.4,2736.2 2104.9,2736.2"/>
<polygon fill="#FF5F1F" stroke="#FF5F1F" stroke-width="1.7" stroke-linejoin="bevel" points="1887.7,2411.7 1887.7,2411.7 2234.8,2736.2 2234.3,2736.2"/>
<polygon fill="#FF5F1F" stroke="#FF5F1F" stroke-width="1.7" stroke-linejoin="bevel" points="1914.6,2411.7 1914.6,2411.7 1146,2736.2 1145.5,2736.2"/>
<polygon fill="#FF5F1F" stroke="#FF5F1F" stroke-width="1.7" stroke-linejoin="bevel" points="1928.7,2411.7 1928.7,2411.7 2236.1,2736.2 2235.6,2736.2"/>
<polygon fill="#FF5F1F" stroke="#FF5F1F" stroke-width="1.7" stroke-linejoin="bevel" points="1954.9,2411.7 1954.9,2411.7 1146.8,2736.2 1146.3,2736.2"/>
<polygon fill="#FF5F1F" stroke="#FF5F1F" stroke-width="1.7" stroke-linejoin="bevel" points="2031.6,2411.7 2031.6,2411.7 1147.6,2736.2 1147.1,2736.2"/>
<polygon fill="#FF5F1F" stroke="#FF5F1F" stroke-width="1.7" stroke-linejoin="bevel" points="2066.3,2411.7 2066.3,2411.7 1148.4,2736.2 1147.9,2736.2"/>
<polygon fill="#FF5F1F" stroke="#FF5F1F" stroke-width="1.7" stroke-linejoin="bevel" points="2101.6,2411.7 2101.6,2411.7 1149.2,2736.2 1148.7,2736.2"/>
<polygon fill="#FF5F1F" stroke="#FF5F1F" stroke-width="1.7" stroke-linejoin="bevel" points="2131.6,2411.7 2131.6,2411.7 1150,2736.2 1149.5,2736.2"/>
<polygon fill="#FF5F1F" stroke="#FF5F1F" stroke-width="1.7" stroke-linejoin="bevel" points="2132.8,2411.7 2132.8,2411.7 1552.2,2736.2 1551.6,2736.2"/>
<polygon fill="#FF5F1F" stroke="#FF5F1F" stroke-width="1.7" stroke-linejoin="bevel" points="2135.4,2411.7 2135.4,2411.7 2242.5,2736.2 2242,2736.2"/>
<polygon fill="#FF5F1F" stroke="#FF5F1F" stroke-width="1.7" stroke-linejoin="bevel" points="2280.7,2411.7 2280.7,2411.7 2243.8,2736.2 2243.3,2736.2"/>
<polygon fill="#FF5F1F" stroke="#FF5F1F" stroke-width="1.7" stroke-linejoin="bevel" points="2308.1,2411.7 2308.1,2411.7 2245.1,2736.2 2244.6,2736.2"/>
<polygon fill="#FF5F1F" stroke="#FF5F1F" stroke-width="1.7" stroke-linejoin="bevel" points="2279.7,2411.7 2279.7,2411.7 1153.2,2736.2 1152.7,2736.2"/>
<polygon fill="#FF5F1F" stroke="#FF5F1F" stroke-width="1.7" stroke-linejoin="bevel" points="2307.1,2411.7 2307.1,2411.7 1555.8,2736.2 1555.3,2736.2"/>
<rect fill="#48388F" x="11" y="2357.5" width="836" height="54.7"/>
<rect fill="#FF5F1F" x="874" y="2357.5" width="263.5" height="54.7"/>
<rect fill="#00B4B4" x="1163.6" y="2357.5" width="181.4" height="54.7"/>
<rect fill="#FF5F1F" x="1371.7" y="2357.5" width="89.8" height="54.7"/>
<rect fill="#FF5F1F" x="1486.7" y="2357.5" width="68.3" height="54.7"/>
<rect fill="#FF5F1F" x="1581.7" y="2357.5" width="54.3" height="54.7"/>
<rect fill="#FF5F1F" x="1662.7" y="2357.5" width="51.3" height="54.7"/>
<rect fill="#FF5F1F" x="1740" y="2357.5" width="40" height="54.7"/>
<rect fill="#FF5F1F" x="1807.3" y="2357.5" width="33.4" height="54.7"/>
<rect fill="#FF5F1F" x="1868.3" y="2357.5" width="20" height="54.7"/>
<rect fill="#FF5F1F" x="1914" y="2357.5" width="15.3" height="54.7"/>
<rect fill="#FF5F1F" x="1954.3" y="2357.5" width="13" height="54.7"/>
<rect fill="#00B4B4" x="1995" y="2357.5" width="8.3" height="54.7"/>
<rect fill="#FF5F1F" x="2031" y="2357.5" width="8.3" height="54.7"/>
<rect fill="#FF5F1F" x="2065.7" y="2357.5" width="7.6" height="54.7"/>
<rect fill="#FF5F1F" x="2101" y="2357.5" width="4.3" height="54.7"/>
<rect fill="#FF5F1F" x="2131" y="2357.5" width="5" height="54.7"/>
<rect fill="#FF5F1F" x="2162.3" y="2357.5" width="3.7" height="54.7"/>
<rect fill="#00B4B4" x="2191.3" y="2357.5" width="4" height="54.7"/>
<rect fill="#FF5F1F" x="2221.3" y="2357.5" width="3.4" height="54.7"/>
<rect fill="#8A1A63" x="2250" y="2357.5" width="2" height="54.7"/>
<rect fill="#FF5F1F" x="2279.3" y="2357.5" width="2" height="54.7"/>
<rect fill="#FF5F1F" x="2306.7" y="2357.5" width="2" height="54.7"/>
<rect fill="#00B4B4" x="2336" y="2357.5" width="2" height="54.7"/>
<rect fill="#FF5F1F" x="2363.3" y="2357.5" width="2" height="54.7"/>
<rect fill="#00782E" x="11" y="2736.2" width="1143.2" height="54.8"/>
<rect fill="#00782E" x="1261.2" y="2736.2" width="295.5" height="54.8"/>
<rect fill="#00782E" x="1665.2" y="2736.2" width="120.1" height="54.8"/>
<rect fill="#00782E" x="1893.5" y="2736.2" width="68" height="54.8"/>
<rect fill="#00782E" x="2070.6" y="2736.2" width="48" height="54.8"/>
<rect fill="#00782E" x="2226.3" y="2736.2" width="19.2" height="54.8"/>
<rect fill="#00782E" fill-opacity="0.6" x="2352.8" y="2736.2" width="3.2" height="54.8"/>
</g>
<text class="sp" transform="translate(439,2340.3) rotate(-90)" font-size="38.2"><tspan font-style="italic" font-size="39">Aprostocetus</tspan> sp.</text>
<text class="sp" transform="translate(1015,2335.3) rotate(-90)" font-size="38.2"><tspan font-style="italic" font-size="39">Symplecta</tspan> sp.</text>
<text class="sp" transform="translate(1262.6,2329.8) rotate(-90)" font-size="38.2">Nitidulidae 1</text>
<text class="sp" transform="translate(1424,2329.8) rotate(-90)" font-size="38.2"><tspan font-style="italic" font-size="39">Beebeomyia tuxtlaensis</tspan></text>
<text class="sp" transform="translate(1528,2329.8) rotate(-90)" font-size="38.2"><tspan font-style="italic" font-size="39">Sepsisoma</tspan> sp.</text>
<text class="sp" transform="translate(1618,2329.8) rotate(-90)" font-size="38.2"><tspan font-style="italic" font-size="39">Beebeomyia palposa</tspan></text>
<text class="sp" transform="translate(1697.7,2329.8) rotate(-90)" font-size="38.2"><tspan font-style="italic" font-size="39">Beebeomyia</tspan> sp.3</text>
<text class="sp" transform="translate(1769,2329.8) rotate(-90)" font-size="38.2">Sciaridae.spp</text>
<text class="sp" transform="translate(1833,2329.8) rotate(-90)" font-size="38.2">Drosophilidae.spp.</text>
<text class="sp" transform="translate(1887.5,2329.2) rotate(-90)" font-size="38.2"><tspan font-style="italic" font-size="39">Merosargus</tspan> 1</text>
<text class="sp" transform="translate(1930.8,2329.2) rotate(-90)" font-size="38.2"><tspan font-style="italic" font-size="39">Merosargus</tspan> 3</text>
<text class="sp" transform="translate(1969.3,2329.2) rotate(-90)" font-size="38.2">Psychodidae spp.</text>
<text class="sp" transform="translate(2008.4,2329.2) rotate(-90)" font-size="38.2">Nitidulidae 3</text>
<text class="sp" transform="translate(2045,2329.2) rotate(-90)" font-size="38.2"><tspan font-style="italic" font-size="39">Merosargus</tspan> 2</text>
<text class="sp" transform="translate(2073,2329.2) rotate(-90)" font-size="38.2"><tspan font-style="italic" font-size="39">Rhipidia</tspan> sp.</text>
<text class="sp" transform="translate(2102,2329.2) rotate(-90)" font-size="38.2"><tspan font-style="italic" font-size="39">Forcipomyia</tspan> sp.</text>
<text class="sp" transform="translate(2132.8,2329.2) rotate(-90)" font-size="38.2"><tspan font-style="italic" font-size="39">Neosilba</tspan> sp.</text>
<text class="sp" transform="translate(2162.8,2329.2) rotate(-90)" font-size="38.2">Chloropidae 1</text>
<text class="sp" transform="translate(2194,2329.2) rotate(-90)" font-size="38.2">Nitidulidae 2</text>
<text class="sp" transform="translate(2223.8,2329.2) rotate(-90)" font-size="38.2">Chloropidae 2</text>
<text class="sp" transform="translate(2253,2329.2) rotate(-90)" font-size="38.2">Pyralidae</text>
<text class="sp" transform="translate(2282.7,2329.2) rotate(-90)" font-size="38.2"><tspan font-style="italic" font-size="39">Copestylum</tspan> sp.</text>
<text class="sp" transform="translate(2311.7,2329.2) rotate(-90)" font-size="38.2"><tspan font-style="italic" font-size="39">Potamia</tspan> sp.</text>
<text class="sp" transform="translate(2340.7,2329.2) rotate(-90)" font-size="38.2"><tspan font-style="italic" font-size="39">Cyclocephala sexpunctata</tspan></text>
<text class="sp" transform="translate(2371.3,2329.2) rotate(-90)" font-size="38.2"><tspan font-style="italic" font-size="39">Glyphidops</tspan> sp.</text>
<text class="lo" x="362.9" y="2844" textLength="94.1" lengthAdjust="spacingAndGlyphs">Phra</text>
<text class="lo" x="1360.7" y="2844" textLength="96.3" lengthAdjust="spacingAndGlyphs">Xaro</text>
<text class="lo" x="1674.8" y="2844" textLength="94.6" lengthAdjust="spacingAndGlyphs">Dioe</text>
<text class="lo" x="1851" y="2844" textLength="114.9" lengthAdjust="spacingAndGlyphs">Rhwe</text>
<text class="lo" x="2030" y="2844" textLength="100.3" lengthAdjust="spacingAndGlyphs">Phsa</text>
<text class="lo" x="2189" y="2844" textLength="86.5" lengthAdjust="spacingAndGlyphs">Phtr</text>
<text class="lo" x="2315.6" y="2844" textLength="103.1" lengthAdjust="spacingAndGlyphs">Phse</text>
<text class="ti" x="103" y="2118.5" textLength="173" lengthAdjust="spacingAndGlyphs">BSLT</text>
<text class="su" x="44" y="2211" textLength="298" lengthAdjust="spacingAndGlyphs">(100 - 300 m)</text>
<rect x="438" y="2900.5" width="1465" height="184" fill="#fff" stroke="#808080" stroke-width="3"/>
<rect fill="#00782E" x="472.5" y="2927.5" width="52" height="51.5"/>
<rect fill="#FF5F1F" x="931.5" y="2939" width="52" height="51.5"/>
<rect fill="#00B4B4" x="931.5" y="3016" width="52" height="51.5"/>
<rect fill="#48388F" x="1392.5" y="2935" width="52" height="51.5"/>
<rect fill="#8A1A63" x="1392.5" y="3011" width="52" height="51.5"/>
<text class="lg" x="550" y="2975" textLength="292.5" lengthAdjust="spacingAndGlyphs">host plants</text>
<text class="lg" x="1012.5" y="2980" textLength="192.5" lengthAdjust="spacingAndGlyphs">Diptera</text>
<text class="lg" x="1019" y="3057.5" textLength="293.5" lengthAdjust="spacingAndGlyphs">Coleoptera</text>
<text class="lg" x="1477.5" y="2975" textLength="362.5" lengthAdjust="spacingAndGlyphs">Hymenoptera</text>
<text class="lg" x="1477.5" y="3052.5" textLength="315" lengthAdjust="spacingAndGlyphs">Lepidoptera</text>
</svg>
</body></html>
